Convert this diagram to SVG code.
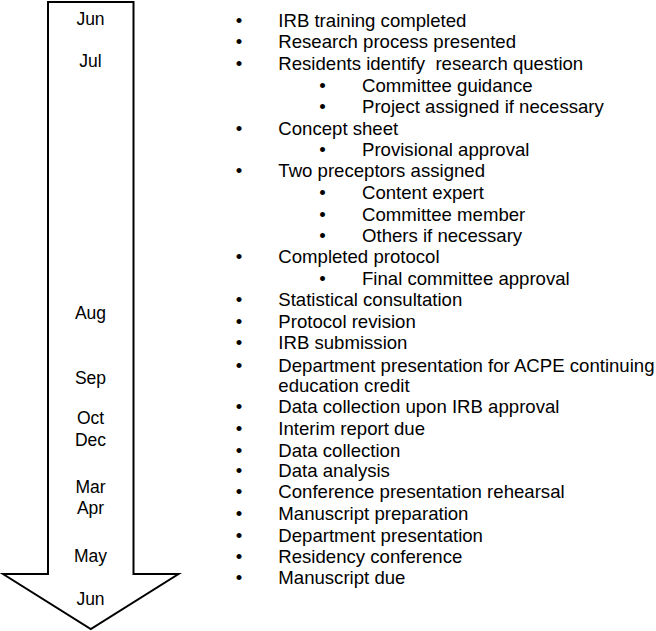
<svg xmlns="http://www.w3.org/2000/svg" width="656" height="631" viewBox="0 0 656 631">
<style>
text{font-family:"Liberation Sans",Arial,sans-serif;fill:#000}
.m{font-size:17.5px;text-anchor:middle}
.t{font-size:18.6px;white-space:pre}
.b{font-size:18.6px;text-anchor:middle}
</style>
<rect width="656" height="631" fill="#fff"/>
<g id="arrow">
<path d="M48,2 L133.5,2 L133.5,574 L178.5,574 L90.8,629 L3,574 L48,574 Z" fill="#fff" stroke="#000" stroke-width="2" stroke-linejoin="miter"/>
</g>
<g id="months">
<text class="m" x="90.5" y="25">Jun</text>
<text class="m" x="90.5" y="67">Jul</text>
<text class="m" x="90.5" y="318.5">Aug</text>
<text class="m" x="90.5" y="383.5">Sep</text>
<text class="m" x="90.5" y="423.5">Oct</text>
<text class="m" x="90.5" y="445.5">Dec</text>
<text class="m" x="90.5" y="493">Mar</text>
<text class="m" x="90.5" y="513.5">Apr</text>
<text class="m" x="90.5" y="562">May</text>
<text class="m" x="90.5" y="605">Jun</text>
</g>
<g id="list">
<text class="b" x="239" y="26.7">•</text><text class="t" x="278.3" y="26.7">IRB training completed</text>
<text class="b" x="239" y="48.3">•</text><text class="t" x="278.3" y="48.3">Research process presented</text>
<text class="b" x="239" y="70">•</text><text class="t" x="278.3" y="70">Residents identify  research question</text>
<text class="b" x="322.5" y="91.7">•</text><text class="t" x="362" y="91.7">Committee guidance</text>
<text class="b" x="322.5" y="113">•</text><text class="t" x="362" y="113">Project assigned if necessary</text>
<text class="b" x="239" y="135">•</text><text class="t" x="278.3" y="135">Concept sheet</text>
<text class="b" x="322.5" y="155.7">•</text><text class="t" x="362" y="155.7">Provisional approval</text>
<text class="b" x="239" y="177.3">•</text><text class="t" x="278.3" y="177.3">Two preceptors assigned</text>
<text class="b" x="322.5" y="199">•</text><text class="t" x="362" y="199">Content expert</text>
<text class="b" x="322.5" y="220.7">•</text><text class="t" x="362" y="220.7">Committee member</text>
<text class="b" x="322.5" y="241.7">•</text><text class="t" x="362" y="241.7">Others if necessary</text>
<text class="b" x="239" y="263.3">•</text><text class="t" x="278.3" y="263.3">Completed protocol</text>
<text class="b" x="322.5" y="285">•</text><text class="t" x="362" y="285">Final committee approval</text>
<text class="b" x="239" y="305.5">•</text><text class="t" x="278.3" y="305.5">Statistical consultation</text>
<text class="b" x="239" y="328">•</text><text class="t" x="278.3" y="328">Protocol revision</text>
<text class="b" x="239" y="349.3">•</text><text class="t" x="278.3" y="349.3">IRB submission</text>
<text class="b" x="239" y="371.5">•</text><text class="t" x="278.3" y="371.5">Department presentation for ACPE continuing</text>
<text class="t" x="278.3" y="391.7">education credit</text>
<text class="b" x="239" y="413.3">•</text><text class="t" x="278.3" y="413.3">Data collection upon IRB approval</text>
<text class="b" x="239" y="435">•</text><text class="t" x="278.3" y="435">Interim report due</text>
<text class="b" x="239" y="456.5">•</text><text class="t" x="278.3" y="456.5">Data collection</text>
<text class="b" x="239" y="477">•</text><text class="t" x="278.3" y="477">Data analysis</text>
<text class="b" x="239" y="498.3">•</text><text class="t" x="278.3" y="498.3">Conference presentation rehearsal</text>
<text class="b" x="239" y="520">•</text><text class="t" x="278.3" y="520">Manuscript preparation</text>
<text class="b" x="239" y="541.5">•</text><text class="t" x="278.3" y="541.5">Department presentation</text>
<text class="b" x="239" y="562.5">•</text><text class="t" x="278.3" y="562.5">Residency conference</text>
<text class="b" x="239" y="583.5">•</text><text class="t" x="278.3" y="583.5">Manuscript due</text>
</g>
</svg>
